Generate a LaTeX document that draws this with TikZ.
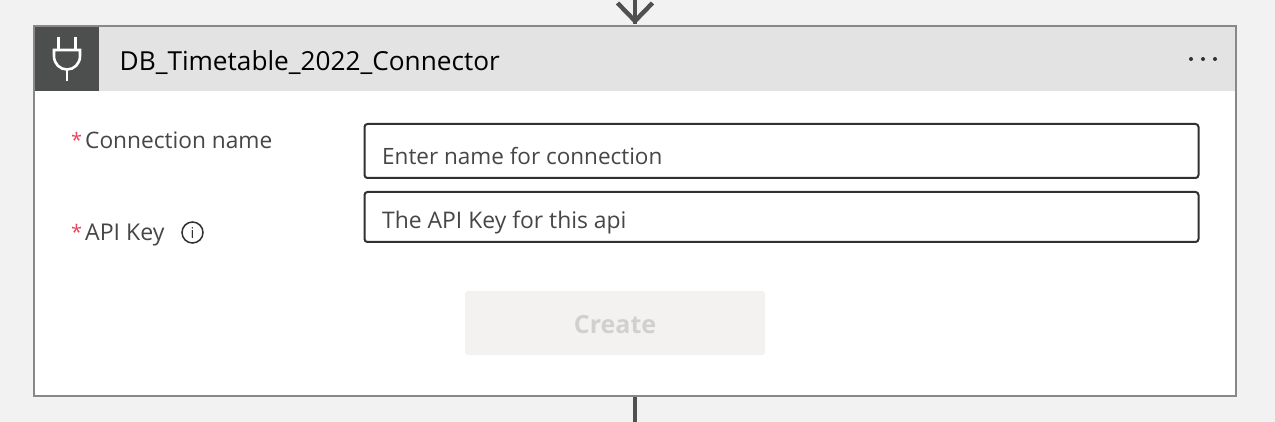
\documentclass[tikz,border=0pt]{standalone}
\usepackage{fontspec}
\setmainfont{Open Sans}
\definecolor{pagebg}{HTML}{F2F2F2}
\definecolor{cardline}{HTML}{8A8886}
\definecolor{headbg}{HTML}{E3E3E3}
\definecolor{iconbg}{HTML}{4D4F4E}
\definecolor{inkdark}{HTML}{323130}
\definecolor{flowline}{HTML}{505050}
\definecolor{btnbg}{HTML}{F3F2F1}
\definecolor{btntext}{HTML}{D2D0CE}
\definecolor{reqred}{HTML}{E8485C}
\tikzset{
  x=1pt,y=-1pt,
  fieldbox/.style={draw=inkdark,line width=2pt,rounded corners=3pt,fill=white},
  fieldtext/.style={anchor=base west,inner sep=0pt,text=inkdark!90,font=\fontsize{22.5}{26}\selectfont},
  labeltext/.style={anchor=base west,inner sep=0pt,text=inkdark!90,font=\fontsize{22.7}{26}\selectfont},
  reqmark/.style={anchor=base west,inner sep=0pt,text=reqred,font=\fontsize{20}{26}\selectfont},
  flow/.style={draw=flowline,line width=4.4pt},
  plug/.style={draw=white,line width=2.6pt},
  dot/.style={circle,fill=inkdark,inner sep=0pt,minimum size=4pt},
}
\begin{document}
\begin{tikzpicture}
\useasboundingbox (0,0) rectangle (1275,422);
\fill[pagebg] (0,0) rectangle (1275,422);
% card
\path[draw=cardline,line width=2pt,fill=white] (34,26) rectangle (1236,396);
\fill[headbg] (35,27) rectangle (1235,91);
\fill[iconbg] (35,27) rectangle (99,91);
\coordinate (cardtop) at (635,24);
\coordinate (topfree) at (635,0);
\coordinate (cardbot) at (635,397);
\coordinate (botfree) at (635,422);
\coordinate (chevl) at (617.5,3);
\coordinate (chevr) at (652.5,3);
\draw[flow] (topfree) -- (cardtop);
\draw[flow,line join=miter] (chevl) -- (635,21) -- (chevr);
\draw[flow] (cardbot) -- (botfree);
% plug icon
\draw[plug] (58.5,37) -- (58.5,49);
\draw[plug] (75.5,37) -- (75.5,49);
\draw[plug] (54,50) -- (80,50) -- (80,56) .. controls (80,64) and (74,69.5) .. (67,69.5) .. controls (60,69.5) and (54,64) .. (54,56) -- cycle;
\draw[plug] (67,69.5) -- (67,81);
% header
\node[anchor=base west,inner sep=0pt,text=black,font=\fontsize{26.2}{30}\selectfont] (title) at (119.5,71) {DB\_Timetable\_2022\_Connector};
\node[dot] (d1) at (1191,59) {};
\node[dot] (d2) at (1203,59) {};
\node[dot] (d3) at (1215,59) {};
% labels
\node[reqmark] (req1) at (71,148) {*};
\node[labeltext] (lab1) at (85,148.5) {Connection name};
\node[reqmark] (req2) at (71,240) {*};
\node[labeltext,font=\fontsize{23.1}{26}\selectfont] (lab2) at (85,240.5) {API Key};
\node[circle,draw=inkdark,line width=1.5pt,minimum size=21pt,inner sep=0pt,font=\fontsize{15}{15}\selectfont,text=inkdark] (info) at (192.5,232.5) {i};
% inputs
\node[fieldbox,minimum width=834pt,minimum height=54pt,inner sep=0pt] (f1) at (781.5,151) {};
\node[fieldbox,minimum width=834pt,minimum height=50pt,inner sep=0pt] (f2) at (781.5,217) {};
\node[fieldtext] (t1) at (382,165) {Enter name for connection};
\node[fieldtext,font=\fontsize{22.9}{26}\selectfont] (t2) at (382,229) {The API Key for this api};
% button
\node[fill=btnbg,rounded corners=3pt,minimum width=300pt,minimum height=64pt,inner sep=0pt] (btn) at (615,323) {};
\node[anchor=base,inner sep=0pt,text=btntext,font=\bfseries\fontsize{25}{28}\selectfont] (btnt) at (615,334) {Create};
\end{tikzpicture}
\end{document}
